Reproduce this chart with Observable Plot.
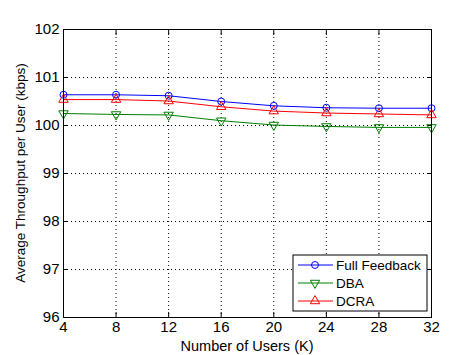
<!DOCTYPE html>
<html><head><meta charset="utf-8">
<script src="https://cdn.jsdelivr.net/npm/d3@7"></script>
<script src="https://cdn.jsdelivr.net/npm/@observablehq/plot@0.6"></script>
<style>body{margin:0;background:#fff;font-family:"Liberation Sans",Arial,sans-serif}</style>
</head><body><div id="chart"></div>
<script>
const users = [4, 8, 12, 16, 20, 24, 28, 32];
const fullFeedback = [100.64, 100.64, 100.62, 100.50, 100.41, 100.37, 100.36, 100.36];
const dba = [100.25, 100.23, 100.22, 100.10, 100.01, 99.98, 99.96, 99.96];
const dcra = [100.54, 100.54, 100.51, 100.39, 100.30, 100.26, 100.24, 100.22];
const xTicks = [4, 8, 12, 16, 20, 24, 28, 32];
const yTicks = [96, 97, 98, 99, 100, 101, 102];
const seriesNames = ["Full Feedback", "DBA", "DCRA"];
const seriesColors = ["#0000ff", "#008000", "#ff0000"];

const seriesVals = [fullFeedback, dba, dcra];
const rows = seriesNames.flatMap((s, i) => users.map((u, j) => ({series: s, users: u, value: seriesVals[i][j]})));

const plot = Plot.plot({
  width: 474, height: 355,
  marginLeft: 63, marginRight: 43, marginTop: 29, marginBottom: 38,
  style: {fontFamily: "Liberation Sans, Arial, sans-serif", fontSize: "15px", color: "#000", background: "#fff"},
  x: {domain: [4, 32], ticks: xTicks, label: null},
  y: {domain: [96, 102], ticks: yTicks, label: null},
  color: {domain: seriesNames, range: seriesColors},
  marks: [
    Plot.gridX(xTicks.slice(1, -1), {stroke: "#000", strokeOpacity: 1, strokeDasharray: "1,3"}),
    Plot.gridY(yTicks.slice(1, -1), {stroke: "#000", strokeOpacity: 1, strokeDasharray: "1,3"}),
    Plot.axisX({ticks: xTicks, tickSize: -5, tickPadding: 9, fontSize: 15, tickFormat: d3.format("d")}),
    Plot.axisX({ticks: xTicks, anchor: "top", tickSize: -5, tickFormat: () => ""}),
    Plot.axisY({ticks: yTicks, tickSize: -5, tickPadding: 9, fontSize: 15, tickFormat: d3.format("d")}),
    Plot.axisY({ticks: yTicks, anchor: "right", tickSize: -5, tickFormat: () => ""}),
    Plot.line(rows, {x: "users", y: "value", z: "series", stroke: "series", strokeWidth: 1}),
    Plot.dot(rows.filter(d => d.series === "Full Feedback"), {x: "users", y: "value", stroke: "series", symbol: "circle", r: 3.5, strokeWidth: 1}),
    Plot.dot(rows.filter(d => d.series === "DBA"), {x: "users", y: "value", stroke: "series", symbol: "triangle", rotate: 180, r: 3.5, strokeWidth: 1}),
    Plot.dot(rows.filter(d => d.series === "DCRA"), {x: "users", y: "value", stroke: "series", symbol: "triangle", r: 3.5, strokeWidth: 1}),
    Plot.frame({stroke: "#000"})
  ]
});

const svg = d3.select(plot);
// axis titles
svg.append("text").attr("x", 247).attr("y", 351).attr("text-anchor", "middle")
  .attr("font-size", 14.5).attr("fill", "#000").text("Number of Users (K)");
svg.append("text").attr("transform", "translate(25,173) rotate(-90)").attr("text-anchor", "middle")
  .attr("font-size", 13.5).attr("fill", "#000").text("Average Throughput per User (kbps)");

// legend
const lg = svg.append("g").attr("transform", "translate(293,255)");
lg.append("rect").attr("width", 134).attr("height", 56).attr("fill", "#fff").attr("stroke", "#000");
const sym = [d3.symbolCircle, d3.symbolTriangle, d3.symbolTriangle];
const rot = [0, 180, 0];
seriesNames.forEach((n, i) => {
  const y = 10 + i * 18;
  lg.append("line").attr("x1", 5).attr("x2", 40).attr("y1", y).attr("y2", y).attr("stroke", seriesColors[i]);
  lg.append("path").attr("d", d3.symbol(sym[i], 38)()).attr("transform", `translate(22,${y}) rotate(${rot[i]})`)
    .attr("fill", "none").attr("stroke", seriesColors[i]);
  lg.append("text").attr("x", 43).attr("y", y + 4.5).attr("text-anchor", "start")
    .attr("font-size", 13.5).attr("fill", "#000").text(n);
});

document.getElementById("chart").append(plot);
</script></body></html>
